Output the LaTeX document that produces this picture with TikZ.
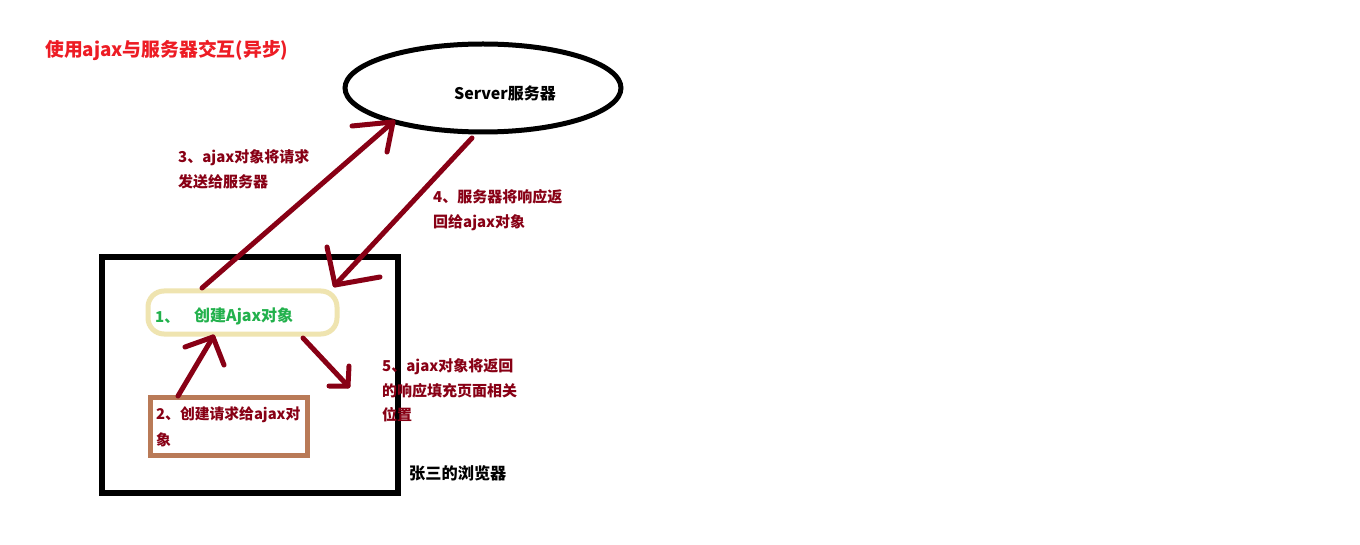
\documentclass[tikz,border=0pt]{standalone}
\usepackage{fontspec}
\setmainfont{Noto Sans CJK SC}
\definecolor{titlered}{HTML}{ED1C24}
\definecolor{darkred}{HTML}{880015}
\definecolor{okgreen}{HTML}{22B14C}
\definecolor{paleyellow}{HTML}{EFE4B0}
\definecolor{brownbox}{HTML}{B97A57}
\tikzset{
  arrowline/.style={draw=darkred, line width=5pt, line cap=round, line join=round},
  lbl/.style={anchor=north west, inner sep=0pt, font=\fontsize{15}{24.5}\selectfont\bfseries, text=darkred, align=left},
}
\begin{document}
\begin{tikzpicture}[x=1pt,y=-1pt]
\useasboundingbox[fill=white] (0,0) rectangle (1360,545);
% title
\node[anchor=west, inner sep=0pt, text=titlered, font=\fontsize{18.8}{22}\selectfont\bfseries] (title) at (45,50) {使用ajax与服务器交互(异步)};
% server ellipse
\draw[line width=5pt] (483,88) ellipse [x radius=138, y radius=44];
\node[inner sep=0pt, font=\fontsize{16}{18}\selectfont\bfseries] (server) at (505,93) {Server服务器};
% browser
\draw[line width=5.5pt] (102,257) rectangle (398,493);
\node[anchor=west, inner sep=0pt, font=\fontsize{16.2}{18}\selectfont\bfseries] (browserlbl) at (409,473) {张三的浏览器};
% ajax node
\draw[draw=paleyellow, line width=5pt, rounded corners=16pt] (148,291) rectangle (337,334);
\node[anchor=west, inner sep=0pt, text=okgreen, font=\fontsize{15}{18}\selectfont\bfseries] (one) at (155,318) {1、};
\node[anchor=west, inner sep=0pt, text=okgreen, font=\fontsize{16}{18}\selectfont\bfseries] (ajax) at (194,316) {创建Ajax对象};
% request box
\draw[draw=brownbox, line width=5pt] (150.5,397.5) rectangle (307.5,455.5);
\node[lbl, font=\fontsize{14.8}{26}\selectfont\bfseries] (req) at (156,406.5) {2、创建请求给ajax对\\象};
% labels
\node[lbl] (l3) at (178,149.5) {3、ajax对象将请求\\发送给服务器};
\node[lbl] (l4) at (433,189.5) {4、服务器将响应返\\回给ajax对象};
\node[lbl] (l5) at (382,358.5) {5、ajax对象将返回\\的响应填充页面相关\\位置};
% arrow coordinates
\coordinate (a3s) at (202,288); \coordinate (a3t) at (393,122);
\coordinate (a3b1) at (352,126); \coordinate (a3b2) at (387,152);
\coordinate (a4s) at (472,138); \coordinate (a4t) at (335,285);
\coordinate (a4b1) at (327,247); \coordinate (a4b2) at (380,277);
\coordinate (a2s) at (178,396); \coordinate (a2t) at (213,337);
\coordinate (a2b1) at (185,347); \coordinate (a2b2) at (224,365);
\coordinate (a5s) at (303,338); \coordinate (a5t) at (348,386);
\coordinate (a5b1) at (349,366); \coordinate (a5b2) at (329,386);
% arrows
\draw[arrowline] (a3s) -- (a3t); \draw[arrowline] (a3b1) -- (a3t) -- (a3b2);
\draw[arrowline] (a4s) -- (a4t); \draw[arrowline] (a4b1) -- (a4t) -- (a4b2);
\draw[arrowline] (a2s) -- (a2t); \draw[arrowline] (a2b1) -- (a2t) -- (a2b2);
\draw[arrowline] (a5s) -- (a5t); \draw[arrowline] (a5b1) -- (a5t) -- (a5b2);
\end{tikzpicture}
\end{document}
